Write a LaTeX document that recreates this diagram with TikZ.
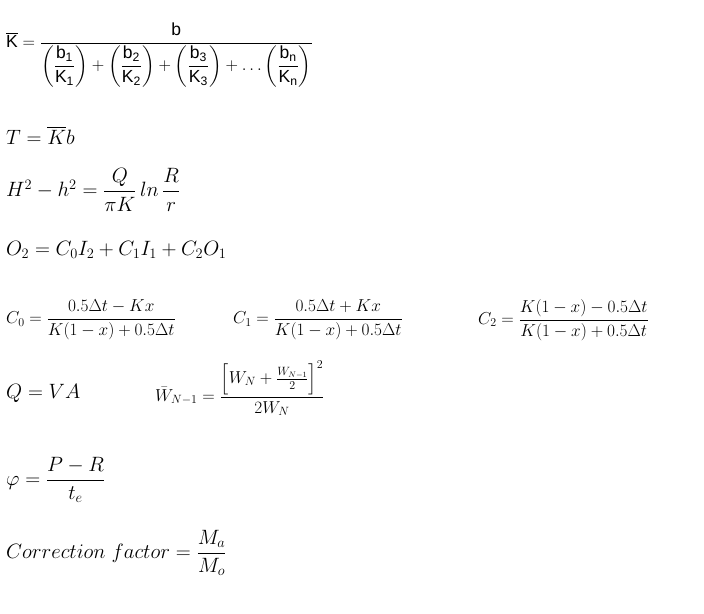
\documentclass[tikz,border=0pt]{standalone}
\usepackage{amsmath}
\usepackage{fontspec}
\newfontfamily\ars{Liberation Sans}
\newcommand{\A}[1]{\text{\ars #1}}
\begin{document}
\begin{tikzpicture}[x=1pt,y=-1pt,eq/.style={anchor=west,inner sep=0pt,font=\fontsize{20}{24}\selectfont},ceq/.style={eq,font=\fontsize{18.5}{22}\selectfont}]
\useasboundingbox (0,0) rectangle (704,613);
\node[eq,font=\fontsize{17.5}{21}\selectfont] (k) at (6,55) {$\overline{\A{K}}=\dfrac{\A{b}}{\left(\dfrac{\A{b}_{\A{1}}}{\A{K}_{\A{1}}}\right)+\left(\dfrac{\A{b}_{\A{2}}}{\A{K}_{\A{2}}}\right)+\left(\dfrac{\A{b}_{\A{3}}}{\A{K}_{\A{3}}}\right)+\ldots\left(\dfrac{\A{b}_{\A{n}}}{\A{K}_{\A{n}}}\right)}$};
\node[eq] (t) at (6,135) {$T=\overline{K}b$};
\node[eq] (h) at (6,190) {$H^2-h^2=\dfrac{Q}{\pi K}\,ln\,\dfrac{R}{r}$};
\node[eq] (o) at (6,250) {$O_2=C_0I_2+C_1I_1+C_2O_1$};
\node[ceq] (c0) at (6,320) {$C_0=\dfrac{0.5\Delta t-Kx}{K(1-x)+0.5\Delta t}$};
\node[ceq] (c1) at (233,320) {$C_1=\dfrac{0.5\Delta t+Kx}{K(1-x)+0.5\Delta t}$};
\node[ceq] (c2) at (478,320) {$C_2=\dfrac{K(1-x)-0.5\Delta t}{K(1-x)+0.5\Delta t}$};
\node[eq] (q) at (6,393) {$Q=VA$};
\node[eq,font=\fontsize{17}{20}\selectfont] (w) at (155,388) {$\bar{W}_{N-1}=\dfrac{\left[W_N+\frac{W_{N-1}}{2}\right]^2}{2W_N}$};
\node[eq] (p) at (6,480) {$\varphi=\dfrac{P-R}{t_e}$};
\node[eq] (cf) at (6,553) {$Correction\ factor=\dfrac{M_a}{M_o}$};
\end{tikzpicture}
\end{document}
